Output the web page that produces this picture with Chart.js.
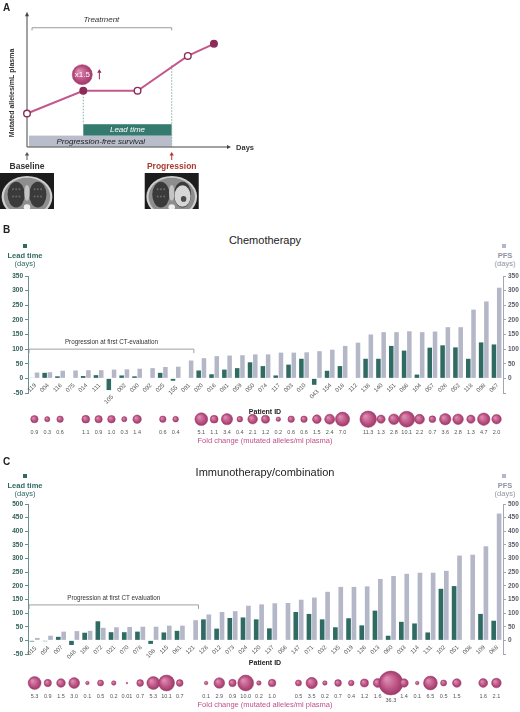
<!DOCTYPE html>
<html>
<head>
<meta charset="utf-8">
<script src="https://cdn.jsdelivr.net/npm/chart.js@4.4.0/dist/chart.umd.min.js"></script>
<style>
  body { margin: 0; background: #fff; }
  #wrap { position: relative; width: 520px; height: 712px; overflow: hidden;
          font-family: "Liberation Sans", Arial, sans-serif; color: #222; }
  canvas { position: absolute; }
  .t { position: absolute; white-space: nowrap; line-height: 1; transform: translate(-50%, -50%); }
  .panel { font-weight: bold; font-size: 10px; transform: none; }
  .title { font-size: 11px; }
  .pid { font-size: 7px; font-weight: bold; }
  .fold { font-size: 7.5px; color: #c2518a; }
  .lead { color: #2f6a62; font-size: 7.5px; text-align: center; }
  .pfs { color: #8f94a3; font-size: 7.5px; text-align: center; }
  .sq { position: absolute; width: 4px; height: 4px; }
</style>
</head>
<body>
<div id="wrap">
  <canvas id="schemeChart" width="270" height="212" style="left:0;top:0"></canvas>
  <canvas id="chemoChart" width="520" height="145" style="left:0;top:268px"></canvas>
  <canvas id="chemoFold" width="520" height="32" style="left:0;top:405px"></canvas>
  <canvas id="immunoChart" width="520" height="178" style="left:0;top:496px"></canvas>
  <canvas id="immunoFold" width="520" height="40" style="left:0;top:666px"></canvas>

  <div class="t panel" style="left:3px;top:3px">A</div>
  <div class="t panel" style="left:3px;top:225px">B</div>
  <div class="t panel" style="left:3px;top:457px">C</div>

  <div class="t title" style="left:265px;top:240px">Chemotherapy</div>
  <div class="sq" style="left:23px;top:244px;background:#2f6b63"></div>
  <div class="t lead" style="left:25px;top:259px"><b>Lead time</b><br>(days)</div>
  <div class="sq" style="left:502px;top:244px;background:#b3b7c7"></div>
  <div class="t pfs" style="left:505px;top:259px"><b>PFS</b><br>(days)</div>
  <div class="t pid" style="left:265px;top:411px">Patient ID</div>
  <div class="t fold" style="left:265px;top:441px">Fold change (mutated alleles/ml plasma)</div>

  <div class="t title" style="left:265px;top:472px">Immunotherapy/combination</div>
  <div class="sq" style="left:23px;top:474px;background:#2f6b63"></div>
  <div class="t lead" style="left:25px;top:489px"><b>Lead time</b><br>(days)</div>
  <div class="sq" style="left:502px;top:474px;background:#b3b7c7"></div>
  <div class="t pfs" style="left:505px;top:489px"><b>PFS</b><br>(days)</div>
  <div class="t pid" style="left:265px;top:662px">Patient ID</div>
  <div class="t fold" style="left:265px;top:705px">Fold change (mutated alleles/ml plasma)</div>
</div>

<script>
// panel A: schematic course of one patient
const schemeDays = [0, 28, 55, 80, 93];
const schemeAlleles = [25, 42, 42, 68, 77];
const schemeFilled = [false, true, false, false, true];
const leadStartDay = 28;
const progressionDay = 72;
const foldMarker = { x: 27.5, y: 54, text: "x1.5" };

// panel B: chemotherapy
const chemoIds = ["119", "004", "116", "075", "014", "111", "105", "002", "030", "092", "025", "155", "091",
  "020", "016", "081", "059", "050", "074", "117", "003", "010", "043", "154", "018", "112", "138", "140",
  "151", "086", "104", "057", "026", "052", "118", "098", "067"];
const chemoLead = [2, 19, 7, null, 8, 11, -40, 10, 7, null, 19, -8, null, 27, 14, 30, 35, 55, 42, 10, 47,
  67, -22, 26, 42, null, 67, 67, 111, 95, 13, 105, 113, 106, 67, 123, 116];
const chemoPfs = [20, 21, 26, 27, 28, 28, 30, 31, 33, 35, 39, 40, 61, 69, 76, 78, 79, 82, 82, 88, 88, 89,
  93, 98, 111, 122, 150, 158, 158, 161, 158, 160, 175, 175, 235, 263, 310];
const chemoFoldChange = [0.9, 0.3, 0.6, null, 1.1, 0.9, 1.0, 0.3, 1.4, null, 0.6, 0.4, null, 5.1, 1.1, 3.4,
  0.4, 2.1, 1.2, 0.2, 0.6, 0.6, 1.5, 2.4, 7.0, null, 11.3, 1.3, 2.8, 10.1, 2.2, 0.7, 3.6, 2.8, 1.3, 4.7, 2.0];
const chemoTicksMax = 350;

// panel C: immunotherapy / combination
const immunoIds = ["015", "054", "007", "048", "106", "072", "021", "070", "078", "108", "115", "061", "121",
  "128", "012", "073", "024", "120", "137", "056", "147", "071", "032", "135", "019", "126", "013", "060",
  "033", "114", "131", "102", "051", "008", "109", "068"];
const immunoLead = [-4, -3, 13, -17, 28, 70, 30, 30, 32, -13, 29, 35, null, 77, 43, 82, 84, 77, 44, null,
  104, 97, 77, 48, 81, 55, 109, 17, 68, 62, 29, 189, 199, null, 97, 72];
const immunoPfs = [9, 17, 32, 34, 35, 46, 48, 49, 50, 50, 54, 54, 74, 95, 104, 107, 127, 132, 136, 137, 149,
  157, 178, 196, 196, 198, 225, 236, 244, 248, 248, 255, 311, 314, 345, 465];
const immunoFoldChange = [5.3, 0.9, 1.5, 3.0, 0.1, 0.5, 0.2, 0.01, 0.7, 5.3, 10.1, 0.7, null, 0.1, 2.9, 0.9,
  10.0, 0.2, 1.0, null, 0.5, 3.5, 0.2, 0.7, 0.4, 1.2, 1.6, 36.3, 1.4, 0.1, 6.5, 0.5, 1.5, null, 1.6, 2.1];
const immunoTicksMax = 500;

const TEAL = "#2f6b63";
const LILAC = "#b3b7c7";
const PINK = "#bb5283";
const PLUM = "#8c2b58";
const FONT = '"Liberation Sans", Arial, sans-serif';

Chart.defaults.font.family = FONT;

// shaded pink sphere, computed from the point's own scale position
function sphereFill(c) {
  if (c.type !== "data" || !c.parsed) return PINK;
  const { chart, parsed } = c;
  const x = chart.scales.x.getPixelForValue(parsed.x);
  const y = chart.scales.y.getPixelForValue(parsed.y);
  const r = (c.raw && c.raw.r) || c.dataset.radius || 5;
  // before the first layout the scales give no pixels yet
  if (!isFinite(x) || !isFinite(y) || !isFinite(r)) return PINK;
  const g = chart.ctx.createRadialGradient(x - r * 0.35, y - r * 0.35, r * 0.1, x, y, r);
  g.addColorStop(0, "#dc8bb0");
  g.addColorStop(0.6, "#bd5586");
  g.addColorStop(1, "#9c3868");
  return g;
}

function ellipse(ctx, x, y, rx, ry) {
  ctx.beginPath();
  ctx.ellipse(x, y, rx, ry, 0, 0, Math.PI * 2);
  ctx.fill();
}

function arrowUp(ctx, x, yTip, yTail, color) {
  ctx.strokeStyle = color;
  ctx.fillStyle = color;
  ctx.lineWidth = 1;
  ctx.beginPath();
  ctx.moveTo(x, yTail);
  ctx.lineTo(x, yTip + 3);
  ctx.stroke();
  ctx.beginPath();
  ctx.moveTo(x, yTip);
  ctx.lineTo(x - 2.2, yTip + 3.5);
  ctx.lineTo(x + 2.2, yTip + 3.5);
  ctx.closePath();
  ctx.fill();
}

// rough CT slice thumbnail
function drawCT(ctx, cx, top, w, h, lesion) {
  const x = cx - w / 2;
  ctx.save();
  ctx.fillStyle = "#1c1c1c";
  ctx.fillRect(x, top, w, h);
  ctx.beginPath();
  ctx.rect(x, top, w, h);
  ctx.clip();
  ctx.fillStyle = "#cfcfcf";
  ellipse(ctx, cx, top + h * 0.66, w * 0.47, h * 0.58);
  ctx.fillStyle = "#8e8e8e";
  ellipse(ctx, cx, top + h * 0.66, w * 0.43, h * 0.53);
  ctx.fillStyle = "#3a3a3a";
  ellipse(ctx, cx - w * 0.2, top + h * 0.6, w * 0.16, h * 0.36);
  ellipse(ctx, cx + w * 0.2, top + h * 0.6, w * 0.16, h * 0.36);
  ctx.fillStyle = "#6a6a6a";
  for (let k = 0; k < 6; k++) {
    ellipse(ctx, cx - w * 0.26 + (k % 3) * w * 0.06, top + h * (0.45 + Math.floor(k / 3) * 0.2), 1, 1);
  }
  ctx.fillStyle = "#c4c4c4";
  ellipse(ctx, cx, top + h * 0.55, w * 0.05, h * 0.22);
  ctx.fillStyle = "#efefef";
  ellipse(ctx, cx, top + h * 0.95, w * 0.06, h * 0.08);
  if (lesion) {
    ctx.fillStyle = "#d6d6d6";
    ellipse(ctx, cx + w * 0.2, top + h * 0.64, w * 0.15, h * 0.3);
    ctx.fillStyle = "#4a4a4a";
    ellipse(ctx, cx + w * 0.22, top + h * 0.72, w * 0.05, h * 0.08);
  } else {
    ctx.fillStyle = "#6a6a6a";
    for (let k = 0; k < 6; k++) {
      ellipse(ctx, cx + w * 0.14 + (k % 3) * w * 0.06, top + h * (0.45 + Math.floor(k / 3) * 0.2), 1, 1);
    }
  }
  ctx.restore();
}

// boxes, bracket, axes and labels of the schematic
const schemePlugin = {
  id: "scheme",
  beforeDatasetsDraw(chart) {
    const { ctx, scales } = chart;
    const px = (v) => scales.x.getPixelForValue(v);
    const py = (v) => scales.y.getPixelForValue(v);
    ctx.save();
    // progression-free survival and lead time boxes
    ctx.fillStyle = "#b9bccb";
    ctx.fillRect(px(1), py(8.5), px(progressionDay) - px(1), py(0.3) - py(8.5));
    ctx.fillStyle = "#347a6e";
    ctx.fillRect(px(leadStartDay), py(17), px(progressionDay) - px(leadStartDay), py(8.5) - py(17));
    // dotted guides
    ctx.strokeStyle = "#7fb0aa";
    ctx.lineWidth = 1;
    ctx.setLineDash([1.5, 1.5]);
    ctx.beginPath();
    ctx.moveTo(px(leadStartDay), py(schemeAlleles[1]));
    ctx.lineTo(px(leadStartDay), py(17));
    ctx.moveTo(px(progressionDay), py(61));
    ctx.lineTo(px(progressionDay), py(0));
    ctx.stroke();
    ctx.setLineDash([]);
    // treatment bracket
    ctx.strokeStyle = "#9a9a9a";
    ctx.beginPath();
    ctx.moveTo(px(2.5), py(87));
    ctx.lineTo(px(2.5), py(89));
    ctx.lineTo(px(progressionDay), py(89));
    ctx.lineTo(px(progressionDay), py(87));
    ctx.stroke();
    // axes
    ctx.strokeStyle = "#444";
    ctx.fillStyle = "#444";
    ctx.beginPath();
    ctx.moveTo(px(0), py(99));
    ctx.lineTo(px(0), py(0));
    ctx.lineTo(px(100), py(0));
    ctx.stroke();
    ctx.beginPath();
    ctx.moveTo(px(0), py(101));
    ctx.lineTo(px(0) - 2, py(97.5));
    ctx.lineTo(px(0) + 2, py(97.5));
    ctx.closePath();
    ctx.fill();
    ctx.beginPath();
    ctx.moveTo(px(101.5), py(0));
    ctx.lineTo(px(99.5), py(0) - 2);
    ctx.lineTo(px(99.5), py(0) + 2);
    ctx.closePath();
    ctx.fill();
    ctx.restore();
  },
  afterDatasetsDraw(chart) {
    const { ctx, scales } = chart;
    const px = (v) => scales.x.getPixelForValue(v);
    const py = (v) => scales.y.getPixelForValue(v);
    const base = py(0);
    ctx.save();
    ctx.textAlign = "center";
    ctx.textBaseline = "middle";
    ctx.fillStyle = "#fff";
    ctx.font = "8px " + FONT;
    ctx.fillText(foldMarker.text, px(foldMarker.x), py(foldMarker.y));
    arrowUp(ctx, px(36), py(58), py(50.5), PLUM);

    ctx.font = "italic 8px " + FONT;
    ctx.fillStyle = "#333";
    ctx.fillText("Treatment", px(37), py(95));
    ctx.fillStyle = "#fff";
    ctx.fillText("Lead time", px(50), py(12.8));
    ctx.fillStyle = "#222";
    ctx.fillText("Progression-free survival", px(36.7), py(3.6));

    ctx.font = "bold 7.5px " + FONT;
    ctx.fillStyle = "#333";
    ctx.textAlign = "left";
    ctx.fillText("Days", px(104), base + 1);

    ctx.save();
    ctx.translate(12, (py(0) + py(100)) / 2 + 13);
    ctx.rotate(-Math.PI / 2);
    ctx.textAlign = "center";
    ctx.font = "bold 7px " + FONT;
    ctx.fillText("Mutated alleles/mL plasma", 0, 0);
    ctx.restore();

    arrowUp(ctx, px(0), base + 5, base + 13, "#555");
    arrowUp(ctx, px(progressionDay), base + 5, base + 13, "#b03a2e");
    ctx.textAlign = "center";
    ctx.font = "bold 8.5px " + FONT;
    ctx.fillStyle = "#333";
    ctx.fillText("Baseline", px(0), base + 20);
    ctx.fillStyle = "#ab3b2f";
    ctx.fillText("Progression", px(progressionDay), base + 20);

    drawCT(ctx, px(0), base + 26, 54, 36, false);
    drawCT(ctx, px(progressionDay), base + 26, 54, 36, true);
    ctx.restore();
  },
};

new Chart(document.getElementById("schemeChart"), {
  type: "line",
  data: {
    datasets: [
      {
        data: schemeDays.map((d, i) => ({ x: d, y: schemeAlleles[i] })),
        borderColor: "#c4588a",
        borderWidth: 2,
        pointRadius: 3.3,
        pointBorderWidth: 1.4,
        pointBorderColor: PLUM,
        pointBackgroundColor: schemeFilled.map((f) => (f ? PLUM : "#fff")),
        clip: false,
      },
      {
        type: "bubble",
        data: [{ x: foldMarker.x, y: foldMarker.y }],
        radius: 10,
        backgroundColor: sphereFill,
        borderColor: "#a9467a",
        borderWidth: 0.6,
        clip: false,
      },
    ],
  },
  options: {
    responsive: false,
    animation: false,
    layout: { padding: { left: 27, top: 13, right: 42, bottom: 65 } },
    plugins: { legend: { display: false }, tooltip: { enabled: false } },
    scales: {
      x: { type: "linear", min: 0, max: 100, display: false },
      y: { min: 0, max: 100, display: false },
    },
  },
  plugins: [schemePlugin],
});

// patient ids hang just below each bar (or below zero)
const patientLabelPlugin = {
  id: "patientLabels",
  afterDraw(chart) {
    const { ctx, scales } = chart;
    const lead = chart.data.datasets[0].data;
    ctx.save();
    ctx.font = "6px " + FONT;
    ctx.fillStyle = "#555";
    ctx.textAlign = "right";
    ctx.textBaseline = "middle";
    chart.data.labels.forEach((id, i) => {
      const x = scales.x.getPixelForValue(i);
      const y = scales.y.getPixelForValue(Math.min(0, lead[i] ?? 0));
      ctx.save();
      ctx.translate(x + 1, y + 6);
      ctx.rotate(-Math.PI / 4);
      ctx.fillText(id, 0, 0);
      ctx.restore();
    });
    ctx.restore();
  },
};

const bracketPlugin = {
  id: "bracket",
  afterDatasetsDraw(chart, args, opts) {
    const { ctx, scales } = chart;
    const step = scales.x.getPixelForValue(1) - scales.x.getPixelForValue(0);
    const x0 = scales.x.getPixelForValue(opts.from) - step * 0.42;
    const x1 = scales.x.getPixelForValue(opts.to) + step * 0.42;
    const y = scales.y.getPixelForValue(opts.level);
    ctx.save();
    ctx.strokeStyle = "#888";
    ctx.lineWidth = 0.8;
    ctx.beginPath();
    ctx.moveTo(x0, y + 4);
    ctx.lineTo(x0, y);
    ctx.lineTo(x1, y);
    ctx.lineTo(x1, y + 4);
    ctx.stroke();
    ctx.font = "6.3px " + FONT;
    ctx.fillStyle = "#333";
    ctx.textAlign = "center";
    ctx.textBaseline = "middle";
    ctx.fillText(opts.text, (x0 + x1) / 2, y - 7);
    ctx.restore();
  },
};

function axisOptions(position, yMax, color, lineColor, width) {
  return {
    position: position,
    min: -50,
    max: yMax,
    ticks: {
      stepSize: 50,
      padding: 2,
      color: color,
      font: { size: 6.5, weight: "bold" },
      callback: (v) => (position === "right" && v < 0 ? "" : v),
    },
    grid: { drawOnChartArea: false, tickLength: 3, color: lineColor },
    border: { color: lineColor },
    afterFit: (scale) => {
      scale.width = width;
    },
  };
}

function makeBarChart(canvasId, ids, lead, pfs, yMax, bracket) {
  return new Chart(document.getElementById(canvasId), {
    type: "bar",
    data: {
      labels: ids,
      datasets: [
        { label: "Lead time", data: lead, yAxisID: "y", backgroundColor: TEAL,
          categoryPercentage: 0.82, barPercentage: 0.86 },
        { label: "PFS", data: pfs, yAxisID: "y2", backgroundColor: LILAC,
          categoryPercentage: 0.82, barPercentage: 0.86 },
      ],
    },
    options: {
      responsive: false,
      animation: false,
      layout: { padding: { top: 8, bottom: 20, left: 0, right: 0 } },
      plugins: {
        legend: { display: false },
        tooltip: { enabled: false },
        bracket: bracket,
      },
      scales: {
        x: { display: false },
        y: axisOptions("left", yMax, "#2f5f58", "#6a918b", 28),
        y2: axisOptions("right", yMax, "#5a5e68", "#a3a7b2", 17),
      },
    },
    plugins: [bracketPlugin, patientLabelPlugin],
  });
}

function formatFold(v) {
  return v < 0.1 ? String(v) : v.toFixed(1);
}

const foldLabelPlugin = {
  id: "foldLabels",
  afterDatasetsDraw(chart) {
    const { ctx } = chart;
    const meta = chart.getDatasetMeta(0);
    const points = chart.data.datasets[0].data;
    ctx.save();
    ctx.font = "5.5px " + FONT;
    ctx.fillStyle = "#555";
    ctx.textAlign = "center";
    ctx.textBaseline = "middle";
    meta.data.forEach((el, j) => {
      const r = el.options.radius;
      ctx.fillText(formatFold(points[j].v), el.x, Math.max(el.y + 13.5, el.y + r + 5.5));
    });
    ctx.restore();
  },
};

function makeFoldChart(canvasId, ids, fold, yMin, yMax) {
  const points = [];
  fold.forEach((v, i) => {
    if (v !== null) points.push({ x: ids[i], y: 0, r: 3.8 * Math.pow(v, 0.32), v: v });
  });
  return new Chart(document.getElementById(canvasId), {
    type: "bubble",
    data: {
      labels: ids,
      datasets: [{ data: points, backgroundColor: sphereFill, borderColor: "#a2406f",
                   borderWidth: 0.5, clip: false }],
    },
    options: {
      responsive: false,
      animation: false,
      layout: { padding: { left: 28, right: 17, top: 0, bottom: 0 } },
      plugins: { legend: { display: false }, tooltip: { enabled: false } },
      scales: {
        x: { type: "category", offset: true, display: false },
        y: { min: yMin, max: yMax, display: false },
      },
    },
    plugins: [foldLabelPlugin],
  });
}

makeBarChart("chemoChart", chemoIds, chemoLead, chemoPfs, chemoTicksMax,
  { from: 0, to: 12, level: 100, text: "Progression at first CT-evaluation" });
makeFoldChart("chemoFold", chemoIds, chemoFoldChange, -5, 3);

makeBarChart("immunoChart", immunoIds, immunoLead, immunoPfs, immunoTicksMax,
  { from: 0, to: 12, level: 130, text: "Progression at first CT evaluation" });
makeFoldChart("immunoFold", immunoIds, immunoFoldChange, -7, 3);
</script>
</body>
</html>
